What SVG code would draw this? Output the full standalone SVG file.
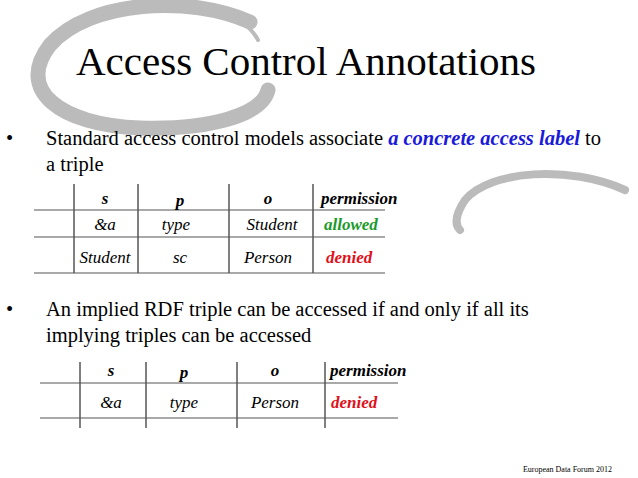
<svg xmlns="http://www.w3.org/2000/svg" width="638" height="478" viewBox="0 0 638 478" font-family="'Liberation Serif', 'DejaVu Serif', serif">
<style>
text{font-family:"Liberation Serif","DejaVu Serif",serif}
.b{font-size:20.5px}
.c{font-size:17px;font-style:italic}
.h{font-weight:bold}
.ln{stroke:#000;stroke-width:1}
.hl{stroke:#555;stroke-width:1.2}
</style>
<rect width="638" height="478" fill="#fff"/>
<g id="swooshes" fill="none" stroke="#bbb" stroke-linecap="round">
<path d="M250 22 C190 -5 90 0 50 45 C15 90 60 125 140 128 C210 130 262 115 268 90" stroke-width="15"/>
<path d="M200 6 C230 10 250 25 258 40" stroke-width="4"/>
<path d="M625 190 C570 165 490 170 465 200 C455 215 455 225 460 230" stroke-width="8"/>
</g>
<g id="title"><text x="76" y="75" font-size="41">Access Control Annotations</text></g>
<g id="bullet1">
<text class="b" x="6" y="145">•</text>
<text class="b" x="46" y="145">Standard access control models associate <tspan style="fill:#1a1ad8;font-style:italic;font-weight:bold">a concrete access label</tspan> to</text>
<text class="b" x="46" y="171">a triple</text>
</g>
<g id="table1">
<line class="ln" x1="74" y1="184" x2="74" y2="273"/><line class="ln" x1="138" y1="184" x2="138" y2="273"/>
<line class="ln" x1="229" y1="184" x2="229" y2="273"/><line class="ln" x1="313" y1="184" x2="313" y2="273"/>
<line class="hl" x1="34" y1="210" x2="385" y2="210"/><line class="hl" x1="34" y1="237" x2="385" y2="237"/><line class="hl" x1="34" y1="273" x2="385" y2="273"/>
<g text-anchor="middle">
<text class="c h" x="105" y="204">s</text><text class="c h" x="180" y="206">p</text><text class="c h" x="268" y="204">o</text>
<text class="c" x="105" y="230">&amp;a</text><text class="c" x="176" y="230">type</text><text class="c" x="272" y="230">Student</text>
<text class="c" x="105" y="263">Student</text><text class="c" x="180" y="263">sc</text><text class="c" x="268" y="263">Person</text>
</g>
<text class="c h" x="321" y="204">permission</text>
<text class="c h" x="324" y="230" style="fill:#1a9a2a">allowed</text>
<text class="c h" x="326" y="263" style="fill:#e0101a">denied</text>
</g>
<g id="bullet2">
<text class="b" x="6" y="316">•</text>
<text class="b" x="46" y="316">An implied RDF triple can be accessed if and only if all  its</text>
<text class="b" x="46" y="342">implying triples can be accessed</text>
</g>
<g id="table2">
<line class="ln" x1="80" y1="362" x2="80" y2="428"/><line class="ln" x1="146" y1="362" x2="146" y2="428"/>
<line class="ln" x1="237" y1="362" x2="237" y2="428"/><line class="ln" x1="325" y1="362" x2="325" y2="428"/>
<line class="hl" x1="40" y1="383" x2="398" y2="383"/><line class="hl" x1="40" y1="418" x2="398" y2="418"/>
<g text-anchor="middle">
<text class="c h" x="111" y="376">s</text><text class="c h" x="184" y="378">p</text><text class="c h" x="275" y="376">o</text>
<text class="c" x="111" y="408">&amp;a</text><text class="c" x="184" y="408">type</text><text class="c" x="275" y="408">Person</text>
</g>
<text class="c h" x="330" y="376">permission</text>
<text class="c h" x="331" y="408" style="fill:#e0101a">denied</text>
</g>
<g id="footer"><text x="612" y="472" font-size="8" text-anchor="end">European Data Forum 2012</text></g>
</svg>
